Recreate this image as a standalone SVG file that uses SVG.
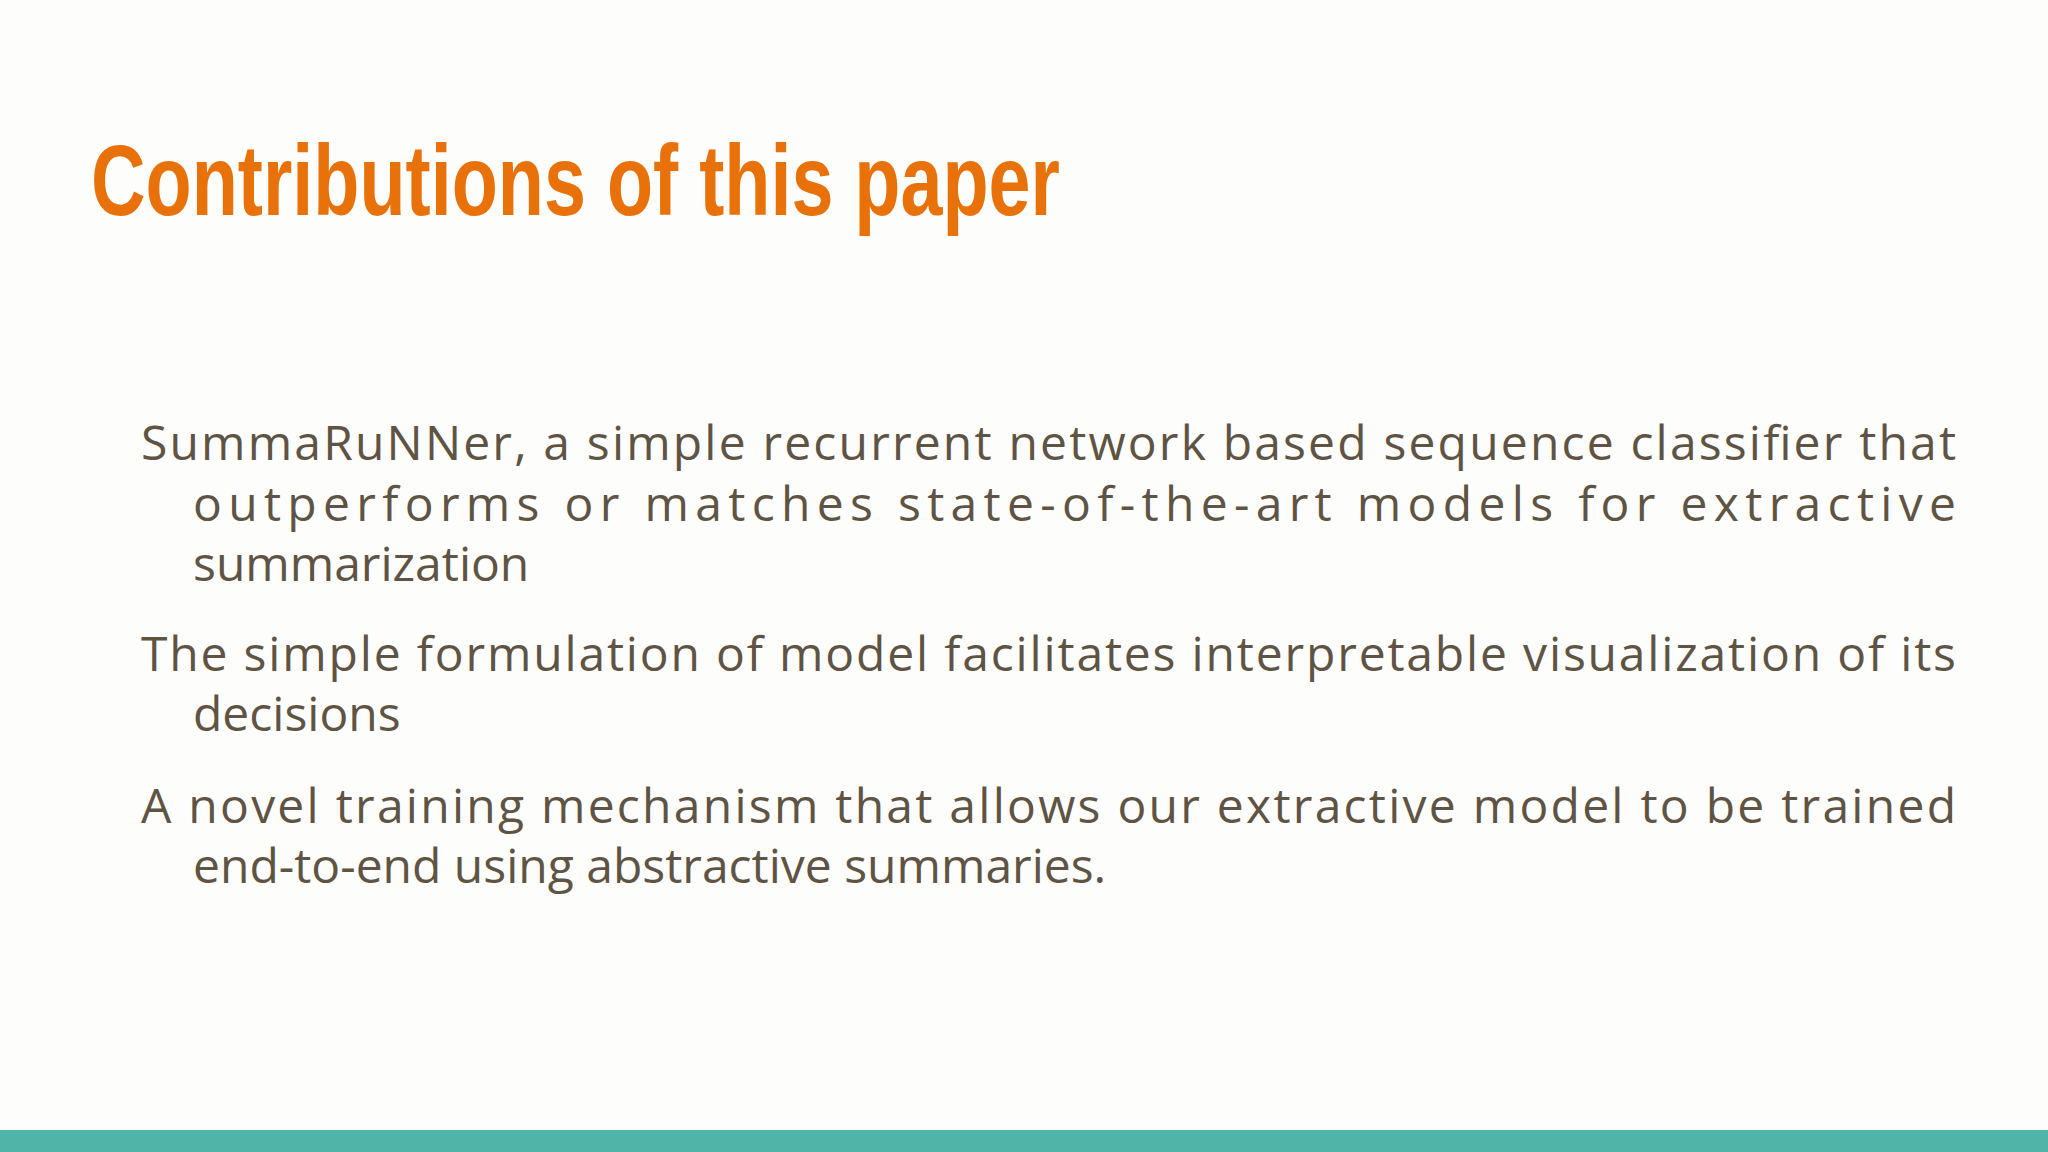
<svg xmlns="http://www.w3.org/2000/svg" width="2048" height="1152" viewBox="0 0 2048 1152">
<style>
.t{font-family:"Liberation Sans Narrow","Liberation Sans",sans-serif;font-weight:bold;font-size:100px;fill:#e8710a}
.b{font-family:"Open Sans","Noto Sans",sans-serif;font-size:48px;fill:#5f5444}
</style>
<rect width="2048" height="1152" fill="#fdfdfc"/>
<rect x="0" y="1130" width="2048" height="22" fill="#4fb5a8"/>
<g id="title"><text class="t" x="91" y="215" textLength="969" lengthAdjust="spacingAndGlyphs">Contributions of this paper</text></g>
<g id="body">
<text class="b" x="141" y="460" textLength="1815" lengthAdjust="spacing">SummaRuNNer, a simple recurrent network based sequence classifier that</text>
<text class="b" x="193" y="521" textLength="1763" lengthAdjust="spacing">outperforms or matches state-of-the-art models for extractive</text>
<text class="b" x="193" y="581">summarization</text>
<text class="b" x="141" y="671" textLength="1815" lengthAdjust="spacing">The simple formulation of model facilitates interpretable visualization of its</text>
<text class="b" x="193" y="731">decisions</text>
<text class="b" x="141" y="823" textLength="1815" lengthAdjust="spacing">A novel training mechanism that allows our extractive model to be trained</text>
<text class="b" x="193" y="883">end-to-end using abstractive summaries.</text>
</g>
</svg>
